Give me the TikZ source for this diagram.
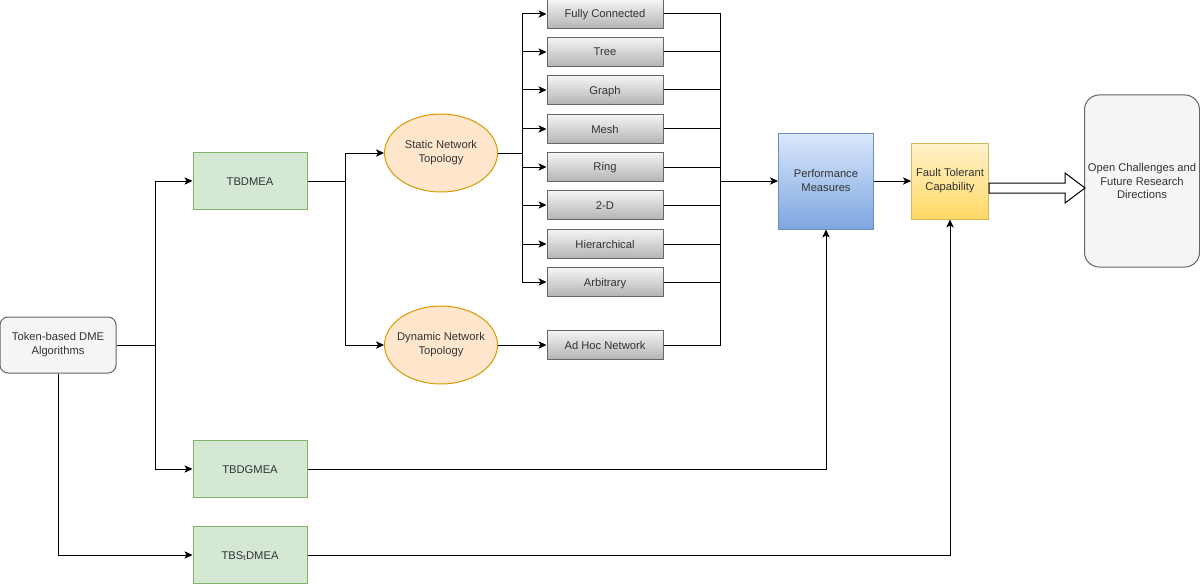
\documentclass[tikz,border=0pt]{standalone}
\usepackage{fontspec}
\setmainfont{Liberation Sans}
\usetikzlibrary{arrows.meta,calc,shapes.geometric}
\definecolor{gstroke}{HTML}{666666}
\definecolor{gtop}{HTML}{F5F5F5}
\definecolor{gbot}{HTML}{B3B3B3}
\definecolor{grfill}{HTML}{D5E8D4}
\definecolor{grstroke}{HTML}{82B366}
\definecolor{orfill}{HTML}{FFE6CC}
\definecolor{orstroke}{HTML}{D79B00}
\definecolor{bltop}{HTML}{DAE8FC}
\definecolor{blbot}{HTML}{7EA6E0}
\definecolor{blstroke}{HTML}{6C8EBF}
\definecolor{yetop}{HTML}{FFF2CC}
\definecolor{yebot}{HTML}{FFD966}
\definecolor{yestroke}{HTML}{D6B656}
\definecolor{txt}{HTML}{333333}
\begin{document}
\begin{tikzpicture}[x=0.75pt,y=-0.75pt,
  base/.style={font=\fontsize{8.4}{10.5}\selectfont, align=center, line width=0.75pt, inner sep=0pt, text=txt},
  oneline/.style={text height=6pt, text depth=0pt},
  graybox/.style={base, oneline, draw=gstroke, top color=gtop, bottom color=gbot, minimum width=87pt, minimum height=21.75pt},
  greenbox/.style={base, oneline, draw=grstroke, fill=grfill, minimum width=85.5pt, minimum height=42.75pt},
  ellip/.style={base, ellipse, inner xsep=-5pt, draw=orstroke, fill=orfill, minimum width=84.75pt, minimum height=58.5pt},
  roundbox/.style={base, draw=gstroke, fill=gtop, rounded corners=6pt},
  ln/.style={line width=0.75pt, draw=black},
  arr/.style={ln, -{Stealth[length=6pt,width=5.5pt,inset=1.5pt]}}
]
\useasboundingbox (0,0) rectangle (1200,585);

\node[roundbox, minimum width=87pt, minimum height=42pt] (token) at (58,345) {Token-based DME\\Algorithms};
\node[greenbox] (tbd) at (250,181) {TBDMEA};
\node[greenbox] (tbdg) at (250,469) {TBDGMEA};
\node[greenbox] (tbst) at (250,555) {TBS\textsubscript{t}DMEA};
\node[ellip] (static) at (441,153) {Static Network\\Topology};
\node[ellip] (dyn) at (441,345) {Dynamic Network\\Topology};

\node[graybox] (fc) at (605,14) {Fully Connected};
\node[graybox] (tree) at (605,52) {Tree};
\node[graybox] (graph) at (605,90) {Graph};
\node[graybox] (mesh) at (605,129) {Mesh};
\node[graybox] (ring) at (605,167) {Ring};
\node[graybox] (twod) at (605,205) {2-D};
\node[graybox] (hier) at (605,244) {Hierarchical};
\node[graybox] (arb) at (605,282) {Arbitrary};
\node[graybox] (adhoc) at (605,345) {Ad Hoc Network};

\node[base, draw=blstroke, top color=bltop, bottom color=blbot, minimum width=71.25pt, minimum height=72pt] (perf) at (826,181) {Performance\\Measures};
\node[base, draw=yestroke, top color=yetop, bottom color=yebot, minimum width=57.75pt, minimum height=57pt] (ftc) at (950,181) {Fault Tolerant\\Capability};
\node[roundbox, rounded corners=11pt, minimum width=86.25pt, minimum height=129pt, font=\fontsize{8.4}{10.1}\selectfont] (occ) at (1142,181) {Open Challenges and\\Future Research\\Directions};

% connectors
\coordinate (t1) at (155,345);
\draw[ln] (token.east) -- (t1);
\draw[arr] (t1) |- (tbd.west);
\draw[arr] (t1) |- (tbdg.west);
\draw[arr] (token.south) |- (tbst.west);

\coordinate (t2) at (345,181);
\draw[ln] (tbd.east) -- (t2);
\draw[arr] (t2) |- (static.west);
\draw[arr] (t2) |- (dyn.west);

\coordinate (t3) at (522,153);
\draw[ln] (static.east) -- (t3);
\foreach \b in {fc,tree,graph,mesh,ring,twod,hier,arb}{
  \draw[arr] (t3) |- (\b.west);
}
\draw[arr] (dyn.east) -- (adhoc.west);

\coordinate (t4) at (720,181);
\foreach \b in {fc,tree,graph,mesh,ring,twod,hier,arb,adhoc}{
  \draw[ln] (\b.east) -| (t4);
}
\draw[arr] (t4) -- (perf.west);
\draw[arr] (perf.east) -- (ftc.west);
\draw[arr] (tbdg.east) -| (perf.south);
\draw[arr] (tbst.east) -| (ftc.south);

% block arrow
\coordinate (ba) at ($(ftc.east)+(0,7)$);
\coordinate (bt) at (ba -| occ.west);
\draw[line width=0.75pt, fill=white] ($(ba)+(0,-5)$) -- ($(bt)+(-19,-5)$) -- ($(bt)+(-19,-15)$) -- ($(bt)+(1,0)$) -- ($(bt)+(-19,15)$) -- ($(bt)+(-19,5)$) -- ($(ba)+(0,5)$) -- cycle;
\end{tikzpicture}
\end{document}
